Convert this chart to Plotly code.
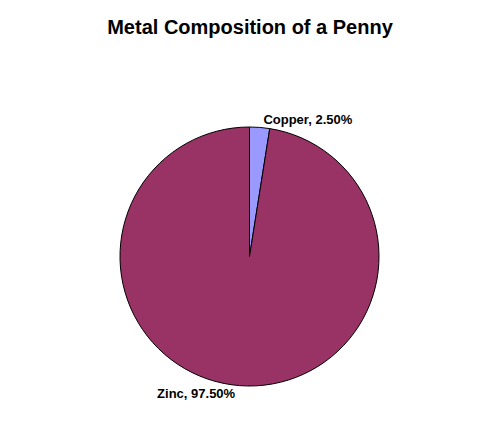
import plotly.graph_objects as go

metals = ["Copper", "Zinc"]
shares = [2.5, 97.5]
colours = ["#9999FF", "#993366"]

fig = go.Figure()
# page body adds 8px, so the domain is shifted by that much
fig.add_trace(go.Pie(labels=metals,
                     values=shares,
                     sort=False,
                     direction="clockwise",
                     rotation=0,
                     marker=dict(colors=colours, line=dict(color="black", width=1)),
                     textposition="outside",
                     texttemplate="<b>%{label}, %{value:.2f}%</b>",
                     textfont=dict(family="Liberation Sans, Arial", size=13, color="black"),
                     showlegend=False,
                     hoverinfo="label+percent",
                     domain=dict(x=[112 / 500, 371 / 500], y=[1 - 378 / 431, 1 - 119 / 431])))

fig.update_layout(title=dict(text="<b>Metal Composition of a Penny</b>",
                             x=242 / 500, xanchor="center", y=1 - 19 / 431, yanchor="middle",
                             font=dict(family="Liberation Sans, Arial", size=20, color="black")),
                  width=500, height=431,
                  margin=dict(l=0, r=0, t=0, b=0),
                  paper_bgcolor="white",
                  plot_bgcolor="white")

fig.write_html("out.html")
